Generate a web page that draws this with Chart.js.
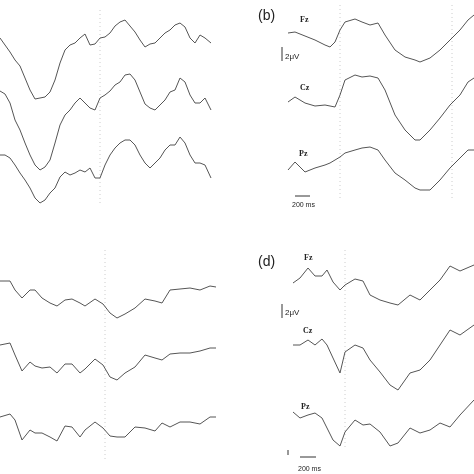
<!DOCTYPE html>
<html>
<head>
<meta charset="utf-8">
<script src="https://cdn.jsdelivr.net/npm/chart.js@4.4.0/dist/chart.umd.min.js"></script>
<style>
  html, body { margin: 0; padding: 0; background: #fff; }
  #wrap { width: 474px; height: 474px; }
</style>
</head>
<body>
<div id="wrap"><canvas id="myChart"></canvas></div>
<script>
// sample positions and traced values for each panel
const aTime = [0,5,10,15,20,25,30,35,40,45,50,55,60,65,70,75,80,85,90,95,100,105,110,115,120,125,130,135,140,145,150,155,160,165,170,175,180,185,190,195,200,205,211];
const aTop = [38,45,52,60,66,78,90,99,98,97,92,80,63,50,45,43,38,34,45,44,38,37,33,26,22,20,26,32,40,47,44,43,38,33,30,25,23,27,38,43,35,38,43];
const aMid = [91,94,103,120,130,143,155,165,170,167,160,143,125,115,110,103,98,103,108,110,98,95,91,85,82,75,74,80,92,104,108,110,105,100,92,90,78,82,95,103,103,98,110];
const aLow = [155,155,158,165,173,180,188,198,203,200,193,188,177,172,175,173,170,172,168,178,178,165,155,148,143,140,140,145,155,163,168,163,158,150,145,145,137,143,155,163,163,165,178];

const bTime = [288,295,305,315,325,330,335,340,345,355,362,370,378,385,395,405,415,420,430,440,450,460,468,474];
const bFz = [33,32,36,40,45,47,42,30,22,19,22,25,23,35,50,57,60,62,58,50,40,30,20,15];
const bCz = [102,97,103,106,105,106,107,95,80,75,77,76,78,90,115,130,140,140,130,118,105,95,82,78];
const bPz = [170,162,172,168,165,163,160,157,153,150,148,147,150,160,173,180,188,190,190,180,168,158,150,150];

const cTime = [0,10,15,22,30,35,42,50,57,65,72,80,85,95,103,110,117,125,135,145,155,162,170,180,190,200,210,216];
const cTop = [281,281,290,298,290,290,298,303,306,300,299,303,306,299,304,313,318,314,308,299,301,303,290,289,288,290,286,287];
const cMid = [345,343,355,371,362,366,368,367,373,364,364,373,369,359,365,377,380,373,367,355,358,360,354,353,353,351,348,348];
const cLow = [417,414,420,440,430,433,433,437,441,426,427,437,430,422,428,436,437,437,427,428,431,423,427,422,422,424,417,417];

const dTime = [293,300,308,315,322,327,333,340,345,355,363,370,380,390,398,410,420,430,440,450,460,474];
const dFz = [283,278,268,276,276,270,282,290,285,279,281,295,300,303,305,295,300,290,280,266,271,265];
const dCz = [345,345,340,345,339,345,358,373,352,345,348,360,372,385,390,373,370,360,345,330,335,325];
const dPz = [412,418,415,413,418,428,440,446,432,420,425,424,432,446,443,428,433,430,423,427,415,400];

const dottedLines = [
    { x: 100, y0: 10, y1: 205 }, { x: 340, y0: 5, y1: 198 }, { x: 452, y0: 5, y1: 198 },
    { x: 105, y0: 250, y1: 460 }, { x: 345, y0: 250, y1: 450 }
];
const labels = [
    { text: "(b)", x: 258, y: 16, font: "14px 'Liberation Sans'" },
    { text: "(d)", x: 258, y: 262, font: "14px 'Liberation Sans'" },
    { text: "Fz", x: 300, y: 20, font: "bold 8px 'Liberation Serif'" },
    { text: "Cz", x: 300, y: 88, font: "bold 8px 'Liberation Serif'" },
    { text: "Pz", x: 299, y: 154, font: "bold 8px 'Liberation Serif'" },
    { text: "Fz", x: 304, y: 258, font: "bold 8px 'Liberation Serif'" },
    { text: "Cz", x: 303, y: 331, font: "bold 8px 'Liberation Serif'" },
    { text: "Pz", x: 301, y: 407, font: "bold 8px 'Liberation Serif'" },
    { text: "2\u03bcV", x: 285, y: 57, font: "8px 'Liberation Sans'" },
    { text: "2\u03bcV", x: 285, y: 313, font: "8px 'Liberation Sans'" },
    { text: "200 ms", x: 292, y: 205, font: "7px 'Liberation Sans'" },
    { text: "200 ms", x: 298, y: 469, font: "7px 'Liberation Sans'" }
];
const bars = [
    [[282, 47], [282, 61]], [[282, 304], [282, 318]],
    [[295, 196], [310, 196]], [[300, 457], [316, 457]], [[288, 450], [288, 455]]
];

function trace(time, vals) {
    return {
        data: time.map((t, i) => ({ x: t, y: vals[i] })),
        borderColor: '#555',
        borderWidth: 1,
        pointRadius: 0,
        tension: 0
    };
}

const overlay = {
    id: 'overlay',
    beforeDatasetsDraw(chart) {
        const c = chart.ctx, xs = chart.scales.x, ys = chart.scales.y;
        c.save();
        c.strokeStyle = '#ccc';
        c.setLineDash([1, 3]);
        dottedLines.forEach(l => {
            c.beginPath();
            c.moveTo(xs.getPixelForValue(l.x), ys.getPixelForValue(l.y0));
            c.lineTo(xs.getPixelForValue(l.x), ys.getPixelForValue(l.y1));
            c.stroke();
        });
        c.restore();
    },
    afterDatasetsDraw(chart) {
        const c = chart.ctx, xs = chart.scales.x, ys = chart.scales.y;
        c.save();
        c.fillStyle = '#222';
        c.textBaseline = 'middle';
        labels.forEach(l => {
            c.font = l.font;
            c.fillText(l.text, xs.getPixelForValue(l.x), ys.getPixelForValue(l.y));
        });
        c.strokeStyle = '#333';
        c.lineWidth = 1;
        bars.forEach(b => {
            c.beginPath();
            c.moveTo(xs.getPixelForValue(b[0][0]), ys.getPixelForValue(b[0][1]));
            c.lineTo(xs.getPixelForValue(b[1][0]), ys.getPixelForValue(b[1][1]));
            c.stroke();
        });
        c.restore();
    }
};

const ctx = document.getElementById('myChart').getContext('2d');
const myChart = new Chart(ctx, {
    type: 'line',
    data: {
        datasets: [
            trace(aTime, aTop), trace(aTime, aMid), trace(aTime, aLow),
            trace(bTime, bFz), trace(bTime, bCz), trace(bTime, bPz),
            trace(cTime, cTop), trace(cTime, cMid), trace(cTime, cLow),
            trace(dTime, dFz), trace(dTime, dCz), trace(dTime, dPz)
        ]
    },
    options: {
        responsive: true,
        maintainAspectRatio: false,
        animation: false,
        layout: { padding: 0 },
        plugins: { legend: { display: false }, tooltip: { enabled: false } },
        scales: {
            x: { type: 'linear', min: 0, max: 474, display: false },
            y: { type: 'linear', min: 0, max: 474, reverse: true, display: false }
        }
    },
    plugins: [overlay]
});
</script>
</body>
</html>
